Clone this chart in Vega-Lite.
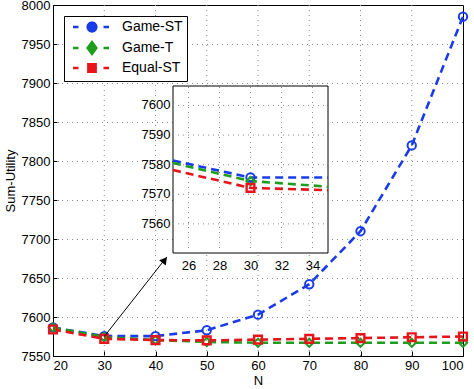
{
  "$schema": "https://vega.github.io/schema/vega-lite/v6.json",
  "width": 410,
  "height": 351,
  "autosize": {"type": "none"},
  "padding": {"left": 53, "top": 5, "right": 11, "bottom": 33},
  "background": "white",
  "view": {"stroke": "black", "strokeWidth": 1},
  "config": {
    "font": "Liberation Sans",
    "axis": {
      "labelFont": "Liberation Sans", "labelFontSize": 13, "labelColor": "black",
      "titleFont": "Liberation Sans", "titleFontSize": 13, "titleFontWeight": "normal", "titleColor": "black",
      "domainColor": "black", "tickColor": "black", "grid": false
    }
  },
  "datasets": {
    "series": [
      {"N": 20, "U": 7586.5, "series": "Game-ST"},
      {"N": 30, "U": 7575.5, "series": "Game-ST"},
      {"N": 40, "U": 7575.5, "series": "Game-ST"},
      {"N": 50, "U": 7583, "series": "Game-ST"},
      {"N": 60, "U": 7603, "series": "Game-ST"},
      {"N": 70, "U": 7642, "series": "Game-ST"},
      {"N": 80, "U": 7710, "series": "Game-ST"},
      {"N": 90, "U": 7820, "series": "Game-ST"},
      {"N": 100, "U": 7985, "series": "Game-ST"},
      {"N": 20, "U": 7586.5, "series": "Game-T"},
      {"N": 30, "U": 7574.3, "series": "Game-T"},
      {"N": 40, "U": 7570.5, "series": "Game-T"},
      {"N": 50, "U": 7568, "series": "Game-T"},
      {"N": 60, "U": 7567, "series": "Game-T"},
      {"N": 70, "U": 7567, "series": "Game-T"},
      {"N": 80, "U": 7567, "series": "Game-T"},
      {"N": 90, "U": 7567, "series": "Game-T"},
      {"N": 100, "U": 7567, "series": "Game-T"},
      {"N": 20, "U": 7584, "series": "Equal-ST"},
      {"N": 30, "U": 7572, "series": "Equal-ST"},
      {"N": 40, "U": 7570.4, "series": "Equal-ST"},
      {"N": 50, "U": 7570, "series": "Equal-ST"},
      {"N": 60, "U": 7571, "series": "Equal-ST"},
      {"N": 70, "U": 7572, "series": "Equal-ST"},
      {"N": 80, "U": 7573, "series": "Equal-ST"},
      {"N": 90, "U": 7574, "series": "Equal-ST"},
      {"N": 100, "U": 7575, "series": "Equal-ST"}
    ],
    "inset": [
      {"N": 25, "U": 7581.2, "series": "Game-ST", "marker": false},
      {"N": 30, "U": 7575.5, "series": "Game-ST", "marker": true},
      {"N": 35, "U": 7575.5, "series": "Game-ST", "marker": false},
      {"N": 25, "U": 7580.4, "series": "Game-T", "marker": false},
      {"N": 30, "U": 7574.3, "series": "Game-T", "marker": true},
      {"N": 35, "U": 7572.4, "series": "Game-T", "marker": false},
      {"N": 25, "U": 7578, "series": "Equal-ST", "marker": false},
      {"N": 30, "U": 7572, "series": "Equal-ST", "marker": true},
      {"N": 35, "U": 7571.2, "series": "Equal-ST", "marker": false}
    ],
    "mgx": [{"v": 30}, {"v": 40}, {"v": 50}, {"v": 60}, {"v": 70}, {"v": 80}, {"v": 90}],
    "mgy": [{"v": 7600}, {"v": 7650}, {"v": 7700}, {"v": 7750}, {"v": 7800}, {"v": 7850}, {"v": 7900}, {"v": 7950}],
    "igx": [{"v": 26}, {"v": 28}, {"v": 30}, {"v": 32}, {"v": 34}],
    "igy": [{"v": 7560}, {"v": 7570}, {"v": 7580}, {"v": 7590}, {"v": 7600}],
    "arrow": [{"x": 30, "y": 7575, "x2": 42.2, "y2": 7677}],
    "arrowhead": [{"x": 41.8, "y": 7673}]
  },
  "resolve": {"scale": {"x": "independent", "y": "independent"}},
  "layer": [
    {
      "layer": [
        {
          "data": {"name": "series"},
          "transform": [{"filter": "false"}],
          "mark": {"type": "point", "filled": true, "opacity": 1},
          "encoding": {
            "x": {"field": "N", "type": "quantitative", "scale": {"domain": [20, 100], "nice": false},
                  "axis": {"title": "N", "orient": "bottom", "tickCount": 8, "format": "d", "grid": false, "labelOverlap": false, "tickSize": -5, "labelPadding": 8, "titlePadding": 2}},
            "y": {"field": "U", "type": "quantitative", "scale": {"domain": [7550, 8000], "nice": false, "zero": false},
                  "axis": {"title": "Sum-Utility", "orient": "left", "tickCount": 9, "format": "d", "grid": false, "labelOverlap": false, "labelSeparation": 0, "tickSize": -5, "labelPadding": 8, "titlePadding": 4}},
            "color": {"field": "series", "type": "nominal",
                      "scale": {"domain": ["Game-ST", "Game-T", "Equal-ST"], "range": ["#1a3ce8", "#1e9e1e", "#e8141c"]},
                      "legend": {
                        "title": null, "orient": "top-left", "offset": 11, "padding": 4,
                        "fillColor": "white", "strokeColor": "black",
                        "labelFont": "Liberation Sans", "labelFontSize": 14, "labelColor": "black",
                        "labelOffset": 40, "symbolSize": 100, "rowPadding": 0, "symbolStrokeWidth": 2.3
                      }},
            "shape": {"field": "series", "type": "nominal",
                      "scale": {"domain": ["Game-ST", "Game-T", "Equal-ST"],
                                "range": ["M-0.4,0H0.7M5.7,0H6.8M4.3,0L4.18,0.45L3.85,0.78L3.4,0.9L2.95,0.78L2.62,0.45L2.5,0L2.62,-0.45L2.95,-0.78L3.4,-0.9L3.85,-0.78L4.18,-0.45Z",
                                          "M-0.4,0H0.7M5.7,0H6.8M3.4,-1.2L4.3,0L3.4,1.2L2.5,0Z",
                                          "M-0.4,0H0.7M5.7,0H6.8M2.65,-0.75H4.15V0.75H2.65Z"]},
                      "legend": {
                        "title": null, "orient": "top-left", "offset": 11, "padding": 4,
                        "fillColor": "white", "strokeColor": "black",
                        "labelFont": "Liberation Sans", "labelFontSize": 14, "labelColor": "black",
                        "labelOffset": 40, "symbolSize": 100, "rowPadding": 0, "symbolStrokeWidth": 2.3
                      }}
          }
        },
        {
          "data": {"name": "mgx"},
          "mark": {"type": "rule", "color": "#8a8a8a", "strokeDash": [1, 4], "strokeWidth": 1},
          "encoding": {"x": {"field": "v", "type": "quantitative"}}
        },
        {
          "data": {"name": "mgy"},
          "mark": {"type": "rule", "color": "#8a8a8a", "strokeDash": [1, 4], "strokeWidth": 1, "yOffset": 0.5},
          "encoding": {"y": {"field": "v", "type": "quantitative"}}
        },
        {
          "data": {"name": "series"},
          "mark": {"type": "line", "strokeDash": [8, 5], "strokeWidth": 2.6},
          "encoding": {
            "x": {"field": "N", "type": "quantitative"},
            "y": {"field": "U", "type": "quantitative"},
            "color": {"field": "series", "type": "nominal"},
            "detail": {"field": "series"}
          }
        },
        {
          "data": {"name": "series"},
          "transform": [{"filter": "datum.series === 'Game-ST'"}],
          "mark": {"type": "point", "shape": "circle", "filled": false, "size": 70, "strokeWidth": 2, "opacity": 1},
          "encoding": {
            "x": {"field": "N", "type": "quantitative"},
            "y": {"field": "U", "type": "quantitative"},
            "color": {"field": "series", "type": "nominal"}
          }
        },
        {
          "data": {"name": "series"},
          "transform": [{"filter": "datum.series === 'Game-T'"}],
          "mark": {"type": "point", "shape": "diamond", "filled": false, "size": 70, "strokeWidth": 2, "opacity": 1},
          "encoding": {
            "x": {"field": "N", "type": "quantitative"},
            "y": {"field": "U", "type": "quantitative"},
            "color": {"field": "series", "type": "nominal"}
          }
        },
        {
          "data": {"name": "series"},
          "transform": [{"filter": "datum.series === 'Equal-ST'"}],
          "mark": {"type": "point", "shape": "square", "filled": false, "size": 60, "strokeWidth": 2.4, "opacity": 1},
          "encoding": {
            "x": {"field": "N", "type": "quantitative"},
            "y": {"field": "U", "type": "quantitative"},
            "color": {"field": "series", "type": "nominal"}
          }
        },
        {
          "data": {"name": "arrow"},
          "mark": {"type": "rule", "color": "black", "strokeWidth": 1},
          "encoding": {
            "x": {"field": "x", "type": "quantitative"},
            "y": {"field": "y", "type": "quantitative"},
            "x2": {"field": "x2"},
            "y2": {"field": "y2"}
          }
        },
        {
          "data": {"name": "arrowhead"},
          "mark": {"type": "point", "shape": "triangle-up", "filled": true, "color": "black", "size": 70, "angle": 38, "opacity": 1},
          "encoding": {
            "x": {"field": "x", "type": "quantitative"},
            "y": {"field": "y", "type": "quantitative"}
          }
        }
      ]
    },
    {
      "layer": [
        {
          "data": {"values": [{}]},
          "mark": {"type": "rect", "fill": "white", "stroke": "black", "strokeWidth": 1},
          "encoding": {
            "x": {"datum": 25, "type": "quantitative",
                  "scale": {"domain": [25, 35], "range": [120, 275], "nice": false, "zero": false},
                  "axis": {"title": null, "orient": "bottom", "offset": -103, "values": [26, 28, 30, 32, 34], "format": "d", "grid": false, "domain": false, "ticks": false, "labelPadding": 6, "labelOverlap": false, "zindex": 1}},
            "x2": {"datum": 35},
            "y": {"datum": 7550, "type": "quantitative",
                  "scale": {"domain": [7550, 7606.4], "range": [248, 81], "nice": false, "zero": false},
                  "axis": {"title": null, "orient": "left", "offset": -120, "values": [7560, 7570, 7580, 7590, 7600], "format": "d", "grid": false, "domain": false, "ticks": false, "labelPadding": 3, "labelOverlap": false, "zindex": 1}},
            "y2": {"datum": 7606.4}
          }
        },
        {
          "data": {"name": "igx"},
          "mark": {"type": "rule", "color": "#8a8a8a", "strokeDash": [1, 4], "strokeWidth": 1},
          "encoding": {
            "x": {"field": "v", "type": "quantitative"},
            "y": {"datum": 7550, "type": "quantitative"},
            "y2": {"datum": 7606.4}
          }
        },
        {
          "data": {"name": "igy"},
          "mark": {"type": "rule", "color": "#8a8a8a", "strokeDash": [1, 4], "strokeWidth": 1, "yOffset": 0.5},
          "encoding": {
            "y": {"field": "v", "type": "quantitative"},
            "x": {"datum": 25, "type": "quantitative"},
            "x2": {"datum": 35}
          }
        },
        {
          "data": {"name": "inset"},
          "mark": {"type": "line", "strokeDash": [8, 5], "strokeWidth": 2.6},
          "encoding": {
            "x": {"field": "N", "type": "quantitative"},
            "y": {"field": "U", "type": "quantitative"},
            "color": {"field": "series", "type": "nominal"},
            "detail": {"field": "series"}
          }
        },
        {
          "data": {"name": "inset"},
          "transform": [{"filter": "datum.marker && datum.series === 'Game-ST'"}],
          "mark": {"type": "point", "shape": "circle", "filled": false, "size": 70, "strokeWidth": 2, "opacity": 1},
          "encoding": {
            "x": {"field": "N", "type": "quantitative"},
            "y": {"field": "U", "type": "quantitative"},
            "color": {"field": "series", "type": "nominal"}
          }
        },
        {
          "data": {"name": "inset"},
          "transform": [{"filter": "datum.marker && datum.series === 'Game-T'"}],
          "mark": {"type": "point", "shape": "diamond", "filled": false, "size": 70, "strokeWidth": 2, "opacity": 1},
          "encoding": {
            "x": {"field": "N", "type": "quantitative"},
            "y": {"field": "U", "type": "quantitative"},
            "color": {"field": "series", "type": "nominal"}
          }
        },
        {
          "data": {"name": "inset"},
          "transform": [{"filter": "datum.marker && datum.series === 'Equal-ST'"}],
          "mark": {"type": "point", "shape": "square", "filled": false, "size": 60, "strokeWidth": 2.4, "opacity": 1},
          "encoding": {
            "x": {"field": "N", "type": "quantitative"},
            "y": {"field": "U", "type": "quantitative"},
            "color": {"field": "series", "type": "nominal"}
          }
        }
      ]
    }
  ]
}
